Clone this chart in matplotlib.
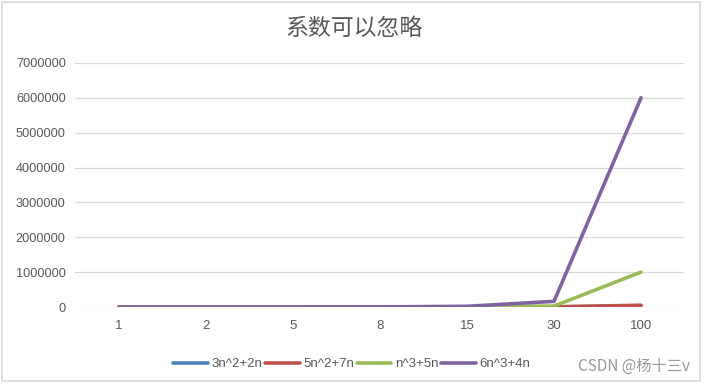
import matplotlib
matplotlib.use("Agg")
from matplotlib import pyplot as plt
from matplotlib.patches import Rectangle

categories = ["1", "2", "5", "8", "15", "30", "100"]
series_names = ["3n^2+2n", "5n^2+7n", "n^3+5n", "6n^3+4n"]
s1 = [5, 16, 85, 208, 705, 2760, 30200]
s2 = [12, 34, 160, 376, 1230, 4710, 50700]
s3 = [6, 18, 150, 552, 3450, 27150, 1000500]
s4 = [10, 56, 770, 3104, 20310, 162120, 6000400]
yticks = [0, 1000000, 2000000, 3000000, 4000000, 5000000, 6000000, 7000000]
colors = ["#4F81BD", "#C0504D", "#9BBB59", "#8064A2"]

plt.rcParams['font.family'] = ['Liberation Sans', 'Noto Sans CJK SC', 'DejaVu Sans']

fig = plt.figure(figsize=(7.04, 3.84), dpi=100)
fig.patches.append(Rectangle((0.003, 0.008), 0.992, 0.986, transform=fig.transFigure,
                             fill=False, edgecolor="#D9D9D9", linewidth=1.2))

ax = fig.add_axes([0.1072, 0.2005, 0.8651, 0.6355])
x = list(range(len(categories)))
for vals, name, c in zip([s1, s2, s3, s4], series_names, colors):
    ax.plot(x, vals, color=c, linewidth=2.6, label=name, solid_capstyle='round')

ax.set_xlim(-0.5, len(categories) - 0.5)
ax.set_ylim(0, 7000000)
ax.set_yticks(yticks)
ax.set_yticklabels([str(v) for v in yticks], fontsize=9.2, color="#595959")
ax.set_xticks(x)
ax.set_xticklabels(categories, fontsize=9.5, color="#595959")
ax.tick_params(length=0)
ax.tick_params(axis='y', pad=7)
ax.tick_params(axis='x', pad=9)
ax.grid(axis='y', color="#D9D9D9", linewidth=0.9)
ax.set_axisbelow(True)
for s in ax.spines.values():
    s.set_visible(False)

fig.text(0.503, 0.927, "系数可以忽略", ha='center', va='center', fontsize=16.5,
         color="#595959", family=['Noto Sans CJK SC'], fontweight='light')

fig.legend(loc='center', bbox_to_anchor=(0.5, 0.052), ncol=4, frameon=False,
           fontsize=9.5, handlelength=2.6, handletextpad=0.3, columnspacing=0.2,
           labelcolor="#595959")

fig.text(0.98, 0.045, "CSDN @杨十三v", ha='right', va='center', fontsize=11,
         color="#9A9A9A", family=['Noto Sans CJK SC', 'DejaVu Sans'])

fig.savefig("out.png", dpi=100)
